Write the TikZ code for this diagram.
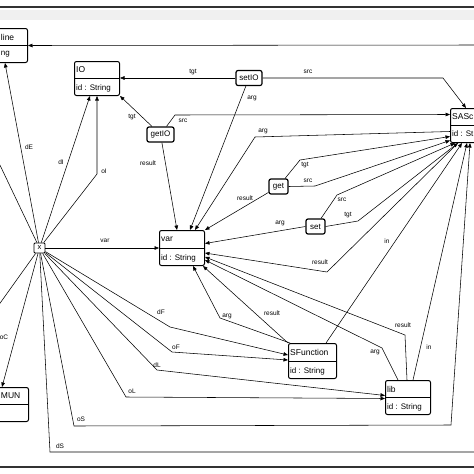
\documentclass[tikz,border=0pt]{standalone}
\usepackage{fontspec}
\setmainfont{Liberation Sans}
\usetikzlibrary{arrows.meta}

% class box: outer frame, divider, title and attribute
\newcommand{\umlclass}[7]{%
  \node[clsbox, minimum width=#4, minimum height=#5] (#1) at (#2,#3) {};
  \draw[divider] (#1.west) -- (#1.east);
  \node[clstitle] (#1-t) at ([xshift=1.5,yshift=-9]#1.north west) {#6};
  \node[clsattr] (#1-a) at ([xshift=1.5,yshift=8]#1.south west) {#7};
}

\begin{document}
\begin{tikzpicture}[x=1pt, y=-1pt,
    clsbox/.style={draw, line width=1pt, rounded corners=2pt, inner sep=0pt, anchor=north west},
    divider/.style={line width=0.8pt},
    clstitle/.style={anchor=west, inner sep=0.5pt, font=\fontsize{8.5}{9}\selectfont},
    clsattr/.style={anchor=west, inner sep=0.5pt, font=\fontsize{8}{9}\selectfont},
    fnbox/.style={draw, line width=1.2pt, rounded corners=2pt, inner sep=0pt, minimum height=15, font=\fontsize{8}{9}\selectfont},
    lbl/.style={inner sep=0.5pt, font=\fontsize{6.5}{7}\selectfont},
    rel/.style={-{Triangle[length=4.5pt,width=3.6pt]}, line width=0.55pt},
    wire/.style={line width=0.55pt}
]
\useasboundingbox (0,0) rectangle (474,474);
\clip (0,0) rectangle (474,474);

% frame of the figure
\fill[gray!12] (0,10) rectangle (474,20);
\draw[line width=1.4pt, black!80] (0,7) -- (474,7);
\draw[line width=1.4pt, black!80] (0,467) -- (474,467);

% classes
\umlclass{IO}{74}{61}{45}{34}{IO}{id : String}
\umlclass{var}{159}{230}{45}{35}{var}{id : String}
\umlclass{SFunction}{288}{343}{48}{35}{SFunction}{id : String}
\umlclass{lib}{385}{380}{45}{34}{lib}{id : String}

% classes cut by the border
\node[clsbox, minimum width=55, minimum height=34] (lineb) at (-28,28) {};
\draw[divider] (lineb.west) -- (lineb.east);
\node[clstitle] (lineb-t) at (0.3,37) {line};
\node[clsattr] (lineb-a) at (0.3,54) {ng};

\node[clsbox, minimum width=56, minimum height=34] (MUN) at (-28,387) {};
\draw[divider] (MUN.west) -- (MUN.east);
\node[clstitle] (MUN-t) at (0.3,396) {MUN};

\node[clsbox, minimum width=50, minimum height=34] (SASc) at (450,108) {};
\draw[divider] (SASc.west) -- (SASc.east);
\node[clstitle] (SASc-t) at (451.5,117) {SASc};
\node[clsattr] (SASc-a) at (451.5,134) {id : St};

% functions
\node[fnbox, minimum width=26] (setIO) at (249,78) {setIO};
\node[fnbox, minimum width=27] (getIO) at (160.5,134.5) {getIO};
\node[fnbox, minimum width=19] (get) at (278.5,186.5) {get};
\node[fnbox, minimum width=19] (set) at (315.5,226.5) {set};
\node[draw, line width=0.9pt, rounded corners=1pt, minimum width=11, minimum height=10, inner sep=0pt,
      font=\fontsize{7.5}{8}\selectfont] (x) at (39.5,248) {x};

% free ends outside the border
\coordinate (offA) at (-12,140);
\coordinate (offB) at (-12,320);
\coordinate (offC) at (480,452);
\coordinate (offD) at (480,45);

% relations of x
\draw[rel] (x.east) -- (x.east -| var.west);
\draw[wire] (x) -- (offA);
\draw[rel] (x) -- ([xshift=33]lineb.south west);
\draw[rel] (x) -- ([xshift=16]IO.south west);
\draw[rel] (x) -- (97,174) -- ([xshift=23]IO.south west);
\draw[wire] (x) -- (offB);
\draw[rel] (x) -- ([xshift=30]MUN.north west);
\draw[wire] (x) -- (50,452) -- (offC);
\draw[rel] (x) -- (74,426) -- (451,425) -- ([xshift=20]SASc.south west);
\draw[rel] (x) -- (126,397) -- ([yshift=-1]lib.west);
\draw[rel] (x) -- (157,370) -- ([yshift=2]lib.west);
\draw[rel] (x) -- (172,352) -- ([yshift=1]SFunction.west);
\draw[rel] (x) -- (170,327) -- ([yshift=6]SFunction.west);
\draw[rel] (offD) -- (lineb.east);

% setIO and getIO
\draw[rel] (setIO.west) -- (setIO.west -| IO.east);
\draw[rel] (setIO.east) -- (443,78) -- ([xshift=16]SASc.north west);
\draw[rel] (setIO) -- ([xshift=31]var.north west);
\draw[rel] (getIO) -- (IO.south east);
\draw[rel] (getIO) -- (175,115) -- ([yshift=11]SASc.west);
\draw[rel] (getIO) -- ([xshift=18]var.north west);
\draw[rel] ([yshift=-6]SASc.west) -- (255,137) -- ([xshift=36]var.north west);

% get and set
\draw[rel] (get) -- (var.north east);
\draw[rel] (get.east) -- (315,186) -- ([yshift=-15]SASc.west);
\draw[rel] (get) -- (300,160) -- ([yshift=-11]SASc.west);
\draw[rel] (set.west) -- ([yshift=4.5]var.east);
\draw[rel] (set) -- (337,195) -- ([xshift=5]SASc.south west);
\draw[rel] (set.east) -- (358,221) -- ([xshift=8]SASc.south west);
\draw[rel] ([xshift=8]SASc.south west) -- (327,272) -- ([yshift=-5]var.east);

% SFunction and lib
\draw[rel] ([xshift=2]SFunction.north west) -- (220,318) -- ([xshift=34]var.south west);
\draw[rel] (SFunction.north west) -- ([xshift=44]var.south west);
\draw[rel] ([xshift=38]SFunction.north west) -- ([xshift=12]SASc.south west);
\draw[rel] ([xshift=13]lib.north west) -- (382,348) -- ([yshift=-12]var.east);
\draw[rel] ([xshift=22]lib.north west) -- (405,335) -- ([yshift=-9]var.east);
\draw[rel] ([xshift=28]lib.north west) -- ([xshift=17]SASc.south west);

% labels
\node[lbl] (l-var) at (105,241) {var};
\node[lbl] (l-dE) at (29,147) {dE};
\node[lbl] (l-dI) at (61,162) {dI};
\node[lbl] (l-oI) at (104,171) {oI};
\node[lbl] (l-oC) at (4,337) {oC};
\node[lbl] (l-dS) at (60,446) {dS};
\node[lbl] (l-oS) at (81,419) {oS};
\node[lbl] (l-oL) at (132,391) {oL};
\node[lbl] (l-dL) at (157,365) {dL};
\node[lbl] (l-oF) at (176,347) {oF};
\node[lbl] (l-dF) at (161,312) {dF};
\node[lbl] (l-tgt1) at (193,72) {tgt};
\node[lbl] (l-src1) at (308,72) {src};
\node[lbl] (l-arg1) at (252,98) {arg};
\node[lbl] (l-tgt2) at (132,117) {tgt};
\node[lbl] (l-src2) at (183,121) {src};
\node[lbl] (l-res2) at (148,163) {result};
\node[lbl] (l-arg2) at (263,131) {arg};
\node[lbl] (l-tgt3) at (305,165) {tgt};
\node[lbl] (l-src3) at (308,181) {src};
\node[lbl] (l-res3) at (245,198) {result};
\node[lbl] (l-src4) at (342,200) {src};
\node[lbl] (l-tgt4) at (348,215) {tgt};
\node[lbl] (l-arg4) at (280,223) {arg};
\node[lbl] (l-res4) at (320,262) {result};
\node[lbl] (l-arg5) at (227,316) {arg};
\node[lbl] (l-res5) at (272,313) {result};
\node[lbl] (l-in5) at (387,241) {in};
\node[lbl] (l-arg6) at (375,352) {arg};
\node[lbl] (l-res6) at (403,325) {result};
\node[lbl] (l-in6) at (429,347) {in};
\end{tikzpicture}
\end{document}
